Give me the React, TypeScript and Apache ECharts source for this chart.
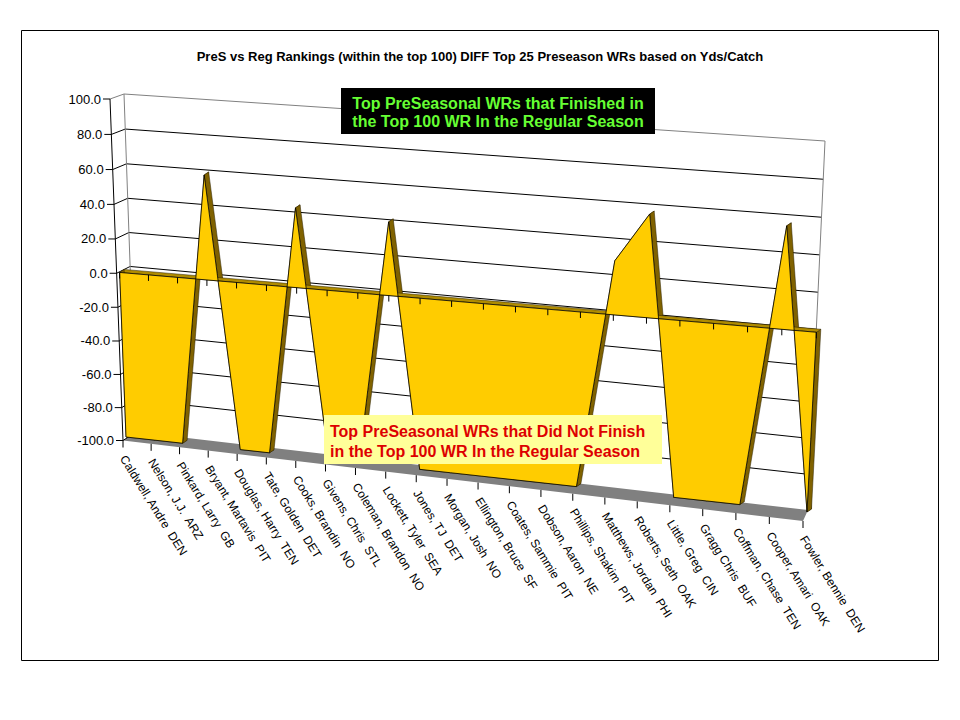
import React, { useEffect, useRef } from 'react';
import * as echarts from 'echarts';

const categories = [
  'Caldwell, Andre  DEN', 'Nelson, J.J.  ARZ', 'Pinkard, Larry  GB', 'Bryant, Martavis  PIT',
  'Douglas, Harry  TEN', 'Tate, Golden  DET', 'Cooks, Brandin  NO', 'Givens, Chris  STL',
  'Coleman, Brandon  NO', 'Lockett, Tyler  SEA', 'Jones, TJ  DET', 'Morgan, Josh  NO',
  'Ellington, Bruce  SF', 'Coates, Sammie  PIT', 'Dobson, Aaron  NE', 'Phillips, Shakim  PIT',
  'Matthews, Jordan  PHI', 'Roberts, Seth  OAK', 'Little, Greg  CIN', 'Gragg Chris  BUF',
  'Coffman, Chase  TEN', 'Cooper, Amari  OAK', 'Fowler, Bennie  DEN',
];
const diffValues = [
  -100, -100, -100, 61, -100, -100, 46, -100, -100, 42, -100, -100,
  -100, -100, -100, -100, 30, 57, -100, -100, -100, 56, -100,
];
const yTicks = [100, 80, 60, 40, 20, 0, -20, -40, -60, -80, -100];

const titleText = 'PreS vs Reg Rankings (within the top 100) DIFF Top 25 Preseason WRs based on Yds/Catch';
const greenLines = ['Top PreSeasonal WRs that Finished in', 'the Top 100 WR In the Regular Season'];
const redLines = ['Top PreSeasonal WRs that Did Not Finish', 'in the Top 100 WR In the Regular Season'];

const FONT = '"Liberation Sans", Arial, sans-serif';
const N = categories.length;

type Plane = { bl: number[]; tl: number[]; br: number[]; tr: number[] };
// perspective planes (screen corners of the value range -100..100 over the category range)
const AREA: Plane = { bl: [126, 437], tl: [113, 101], br: [807, 512], tr: [826, 145] };
const FRONT: Plane = { bl: [123, 440.5], tl: [110, 99], br: [803, 521], tr: [822, 153] };
const BACK: Plane = { bl: [136, 432], tl: [124, 94], br: [808, 510], tr: [825, 141] };
const DEPTH = [4.5, -3];
const K_V = 0.041;
const P_U = 0.094;

function getProj(api: any) {
  const a = api.coord([0, -100]);
  const b = api.coord([N - 1, 100]);
  return (pl: Plane, i: number, v: number) => {
    const p = api.coord([i, v]);
    const t = (p[0] - a[0]) / (b[0] - a[0]);
    const w0 = (p[1] - a[1]) / (b[1] - a[1]);
    const u = t * (1 - P_U) + P_U * t * t;
    const w = w0 - K_V * w0 * (1 - w0);
    const x = (1 - u) * (1 - w) * pl.bl[0] + (1 - u) * w * pl.tl[0] + u * (1 - w) * pl.br[0] + u * w * pl.tr[0];
    const y = (1 - u) * (1 - w) * pl.bl[1] + (1 - u) * w * pl.tl[1] + u * (1 - w) * pl.br[1] + u * w * pl.tr[1];
    return [x, y];
  };
}

function txt(x: number, y: number, text: string, font: string, fill: string, align: string, valign: string, rotation = 0) {
  return {
    type: 'text', x, y, rotation,
    style: { text, font, fill, align, verticalAlign: valign, textAlign: align, textVerticalAlign: valign },
  };
}

function renderWalls(params: any, api: any) {
  const P = getProj(api);
  const children: any[] = [];
  const L = 0, R = N - 1;
  children.push({ type: 'polygon', shape: { points: [P(BACK, L, 100), P(BACK, R, 100), P(BACK, R, -100), P(BACK, L, -100)] }, style: { fill: '#fff' } });
  children.push({ type: 'polygon', shape: { points: [P(FRONT, L, -100), P(FRONT, R, -100), P(BACK, R, -100), P(BACK, L, -100)] }, style: { fill: '#808080' } });
  yTicks.forEach((v) => {
    const pts = v === -100 ? [P(FRONT, L, v), P(BACK, L, v)] : [P(FRONT, L, v), P(BACK, L, v), P(BACK, R, v)];
    children.push({ type: 'polyline', shape: { points: pts }, style: { stroke: v === 100 ? '#808080' : '#000', lineWidth: 1, fill: 'none' } });
  });
  children.push({ type: 'line', shape: { x1: P(BACK, L, -100)[0], y1: P(BACK, L, -100)[1], x2: P(BACK, L, 100)[0], y2: P(BACK, L, 100)[1] }, style: { stroke: '#808080', lineWidth: 1 } });
  children.push({ type: 'line', shape: { x1: P(BACK, R, -100)[0], y1: P(BACK, R, -100)[1], x2: P(BACK, R, 100)[0], y2: P(BACK, R, 100)[1] }, style: { stroke: '#808080', lineWidth: 1 } });
  return { type: 'group', children };
}

function renderArea(params: any, api: any) {
  const P = getProj(api);
  const pts: number[][] = [];
  for (let i = 0; i < N; i++) {
    pts.push([i, diffValues[i]]);
    if (i < N - 1) {
      const a = diffValues[i], b = diffValues[i + 1];
      if ((a < 0 && b > 0) || (a > 0 && b < 0)) pts.push([i + a / (a - b), 0]);
    }
  }
  pts.push([N - 1, 0]);
  pts.push([0, 0]);
  const sp = pts.map((d) => P(AREA, d[0], d[1]));
  const children: any[] = [];
  for (let k = 0; k < sp.length; k++) {
    const a = sp[k], b = sp[(k + 1) % sp.length];
    const dx = b[0] - a[0], dy = b[1] - a[1];
    const flat = Math.abs(dy) <= Math.abs(dx) * 0.6;
    children.push({
      type: 'polygon',
      shape: { points: [a, b, [b[0] + DEPTH[0], b[1] + DEPTH[1]], [a[0] + DEPTH[0], a[1] + DEPTH[1]]] },
      style: { fill: flat ? '#B08C00' : '#806200', stroke: '#2a2000', lineWidth: 0.5 },
    });
  }
  children.push({ type: 'polygon', shape: { points: sp }, style: { fill: '#FFCC00', stroke: '#000', lineWidth: 0.8 } });
  for (let i = 0; i < N; i++) {
    const p = P(AREA, i, 0);
    children.push({ type: 'line', shape: { x1: p[0], y1: p[1], x2: p[0], y2: p[1] + 6 }, style: { stroke: '#000', lineWidth: 1 } });
  }
  return { type: 'group', children };
}

function renderAxes(params: any, api: any) {
  const P = getProj(api);
  const children: any[] = [];
  const a = P(FRONT, 0, -100), b = P(FRONT, 0, 100);
  children.push({ type: 'line', shape: { x1: a[0], y1: a[1], x2: b[0], y2: b[1] }, style: { stroke: '#000', lineWidth: 1 } });
  yTicks.forEach((v) => {
    const p = P(FRONT, 0, v);
    children.push({ type: 'line', shape: { x1: p[0] - 7, y1: p[1], x2: p[0], y2: p[1] }, style: { stroke: '#000', lineWidth: 1 } });
    children.push(txt(p[0] - 9, p[1], v.toFixed(1), '13px ' + FONT, '#000', 'right', 'middle'));
  });
  const rot = (-58 * Math.PI) / 180;
  categories.forEach((c, i) => {
    const p = P(FRONT, i, -100);
    children.push({ type: 'line', shape: { x1: p[0], y1: p[1], x2: p[0], y2: p[1] + 7 }, style: { stroke: '#000', lineWidth: 1 } });
    children.push(txt(p[0], p[1] + 16, c, '12px ' + FONT, '#000', 'left', 'middle', rot));
  });
  return { type: 'group', children };
}

const boxFont = 'bold 16px ' + FONT;

const option: any = {
  animation: false,
  backgroundColor: '#fff',
  title: {
    text: titleText, left: 'center', top: 45,
    textStyle: { fontFamily: FONT, fontSize: 13, fontWeight: 'bold', color: '#000' },
  },
  grid: { left: 100, top: 100, width: 700, height: 340 },
  xAxis: { type: 'value', min: 0, max: N - 1, show: false },
  yAxis: { type: 'value', min: -100, max: 100, interval: 20, show: false },
  series: [
    { type: 'custom', z: 1, silent: true, clip: false, data: [[0, 0]], renderItem: renderWalls },
    { type: 'custom', z: 2, silent: true, clip: false, data: [[0, 0]], renderItem: renderArea },
    { type: 'custom', z: 3, silent: true, clip: false, data: [[0, 0]], renderItem: renderAxes },
  ],
  graphic: [
    { type: 'rect', z: 50, shape: { x: 21.5, y: 30.5, width: 917, height: 630 }, style: { fill: 'none', stroke: '#000', lineWidth: 1 } },
    { type: 'rect', z: 50, shape: { x: 341, y: 88, width: 314, height: 46 }, style: { fill: '#000' } },
    { type: 'text', z: 51, x: 498, y: 103, style: { text: greenLines[0], font: boxFont, fill: '#66FF33', textAlign: 'center', textVerticalAlign: 'middle', align: 'center', verticalAlign: 'middle' } },
    { type: 'text', z: 51, x: 498, y: 121, style: { text: greenLines[1], font: boxFont, fill: '#66FF33', textAlign: 'center', textVerticalAlign: 'middle', align: 'center', verticalAlign: 'middle' } },
    { type: 'rect', z: 50, shape: { x: 324, y: 415, width: 338, height: 49 }, style: { fill: '#FFFF99' } },
    { type: 'text', z: 51, x: 330, y: 431, style: { text: redLines[0], font: boxFont, fill: '#DD0000', textAlign: 'left', textVerticalAlign: 'middle', align: 'left', verticalAlign: 'middle' } },
    { type: 'text', z: 51, x: 330, y: 451, style: { text: redLines[1], font: boxFont, fill: '#DD0000', textAlign: 'left', textVerticalAlign: 'middle', align: 'left', verticalAlign: 'middle' } },
  ],
};

export default function App() {
  const ref = useRef<HTMLDivElement>(null);
  useEffect(() => {
    document.body.style.margin = '0';
    const chart = echarts.init(ref.current!, null, { renderer: 'svg' });
    chart.setOption(option);
    return () => chart.dispose();
  }, []);
  return <div ref={ref} style={{ width: 960, height: 720 }} />;
}
